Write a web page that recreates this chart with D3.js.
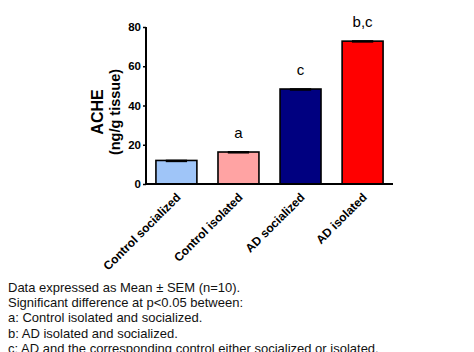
<!DOCTYPE html>
<html>
<head>
<meta charset="utf-8">
<script src="https://cdn.jsdelivr.net/npm/d3@7"></script>
<style>
  body { margin: 0; background: #fff; }
  svg { font-family: "Liberation Sans", Arial, sans-serif; }
</style>
</head>
<body>
<div id="chart"></div>
<script>
// data
const groups = ["Control socialized", "Control isolated", "AD socialized", "AD isolated"];
const means = [12, 16.3, 48.4, 72.8];
const sems = [0.4, 0.5, 0.4, 0.5];
const sigLetters = ["", "a", "c", "b,c"];
const barColors = ["#9fc5f8", "#ffa3a3", "#000080", "#ff0000"];
const yTicks = [0, 20, 40, 60, 80];
const notes = [
  "Data expressed as Mean \u00b1 SEM (n=10).",
  "Significant difference at p<0.05 between:",
  "a: Control isolated and socialized.",
  "b: AD isolated and socialized.",
  "c: AD and the corresponding control either socialized or isolated."
];

const width = 474, height = 352;
const svg = d3.select("#chart").append("svg")
  .attr("width", width).attr("height", height);

const x = d3.scaleBand().domain(groups).range([146, 393])
  .paddingInner(0.34).paddingOuter(0.16);
const y = d3.scaleLinear().domain([0, 80]).range([184, 27]);

// bars
svg.selectAll("rect.bar").data(groups).join("rect")
  .attr("class", "bar")
  .attr("x", d => x(d))
  .attr("y", (d, i) => y(means[i]))
  .attr("width", x.bandwidth())
  .attr("height", (d, i) => y(0) - y(means[i]))
  .attr("fill", (d, i) => barColors[i])
  .attr("stroke", "#000").attr("stroke-width", 1.6);

// error bars (SEM)
const capW = x.bandwidth() * 0.52;
svg.selectAll("rect.err").data(groups).join("rect")
  .attr("class", "err")
  .attr("x", d => x(d) + x.bandwidth() / 2 - capW / 2)
  .attr("y", (d, i) => y(means[i] + sems[i]))
  .attr("width", capW)
  .attr("height", (d, i) => Math.max(2.5, y(means[i] - sems[i]) - y(means[i] + sems[i])))
  .attr("fill", "#000");

// significance letters
svg.selectAll("text.sig").data(groups).join("text")
  .attr("class", "sig")
  .attr("x", d => x(d) + x.bandwidth() / 2)
  .attr("y", (d, i) => y(means[i]) - 14)
  .attr("text-anchor", "middle")
  .attr("font-size", 15)
  .text((d, i) => sigLetters[i]);

// y axis
const yAxis = svg.append("g")
  .attr("transform", "translate(146,0)")
  .call(d3.axisLeft(y).tickValues(yTicks).tickSize(3).tickPadding(2));
yAxis.select(".domain").attr("stroke-width", 2).attr("d", "M0,27V184");
yAxis.selectAll(".tick line").attr("stroke-width", 1.5);
yAxis.selectAll(".tick text").attr("font-size", 11.5).attr("font-weight", "bold")
  .attr("font-family", "Liberation Sans, Arial, sans-serif").attr("fill", "#000");

// x axis
const xAxis = svg.append("g")
  .attr("transform", "translate(0,184)")
  .call(d3.axisBottom(x).tickSize(0));
xAxis.select(".domain").attr("stroke-width", 2).attr("d", "M146,0H393");
xAxis.selectAll(".tick text")
  .attr("font-size", 12).attr("font-weight", "bold")
  .attr("font-family", "Liberation Sans, Arial, sans-serif").attr("fill", "#000")
  .attr("text-anchor", "end")
  .attr("y", 0).attr("dy", 0)
  .attr("transform", "translate(5,14) rotate(-45)");

// y label
const yl = svg.append("text")
  .attr("transform", "translate(103,112) rotate(-90)")
  .attr("text-anchor", "middle")
  .attr("font-size", 14.5).attr("font-weight", "bold");
yl.append("tspan").attr("x", 0).attr("dy", 0).attr("font-size", 16).text("ACHE");
yl.append("tspan").attr("x", 0).attr("dy", 17).text("(ng/g tissue)");

// footnote
svg.selectAll("text.note").data(notes).join("text")
  .attr("class", "note")
  .attr("x", 8)
  .attr("y", (d, i) => 292 + i * 15.2)
  .attr("font-size", 13)
  .attr("fill", "#111")
  .text(d => d);
</script>
</body>
</html>
